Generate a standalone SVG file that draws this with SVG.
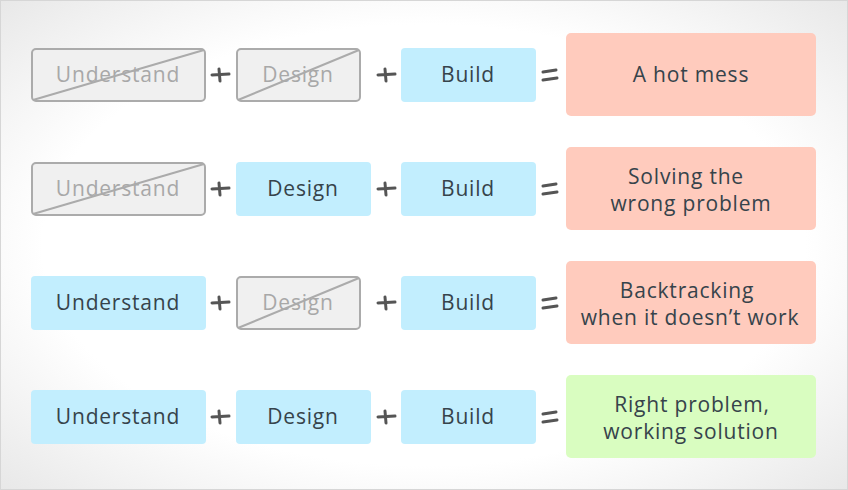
<svg xmlns="http://www.w3.org/2000/svg" width="848" height="490" viewBox="0 0 848 490">
<defs>
<radialGradient id="bg" cx="50%" cy="50%" r="75%">
<stop offset="0.6" stop-color="#ffffff"/>
<stop offset="1" stop-color="#e4e4e4"/>
</radialGradient>
<style>
.x{fill:#f0f0f0;stroke:#ababab;stroke-width:2}
.xl{stroke:#ababab;stroke-width:2;fill:none}
.xt{fill:#a8a8a8}
.b{fill:#c2eefe}
.r{fill:#ffcbbd}
.g{fill:#d9fdc0}
text{font-family:"Open Sans","Noto Sans",sans-serif;font-size:21px;letter-spacing:0.8px;text-anchor:middle;fill:#36434b;stroke:currentColor;stroke-width:0}
.op{stroke:#555;stroke-width:3;stroke-linecap:round;fill:none}
</style>
</defs>
<rect x="0" y="0" width="848" height="490" fill="url(#bg)"/>
<rect x="0.5" y="0.5" width="847" height="489" fill="none" stroke="#d6d6d6"/>

<g id="row1">
<g id="r1-understand"><rect class="x" x="32" y="49" width="173" height="52" rx="4"/><text class="xt" x="118" y="82">Understand</text><line class="xl" x1="33" y1="100" x2="204" y2="50"/></g>
<g id="r1-design"><rect class="x" x="237" y="49" width="123" height="52" rx="4"/><text class="xt" x="298" y="82">Design</text><line class="xl" x1="238" y1="100" x2="359" y2="50"/></g>
<g id="r1-build"><rect class="b" x="401" y="48" width="135" height="54" rx="4"/><text x="468" y="82">Build</text></g>
<g id="r1-result"><rect class="r" x="566" y="33" width="250" height="83" rx="5"/><text x="691" y="82">A hot mess</text></g>
</g>

<g id="row2">
<g id="r2-understand"><rect class="x" x="32" y="163" width="173" height="52" rx="4"/><text class="xt" x="118" y="196">Understand</text><line class="xl" x1="33" y1="214" x2="204" y2="164"/></g>
<g id="r2-design"><rect class="b" x="236" y="162" width="135" height="54" rx="4"/><text x="303" y="196">Design</text></g>
<g id="r2-build"><rect class="b" x="401" y="162" width="135" height="54" rx="4"/><text x="468" y="196">Build</text></g>
<g id="r2-result"><rect class="r" x="566" y="147" width="250" height="83" rx="5"/><text x="686" y="184">Solving the</text><text x="691" y="211">wrong problem</text></g>
</g>

<g id="row3">
<g id="r3-understand"><rect class="b" x="31" y="276" width="175" height="54" rx="4"/><text x="118" y="310">Understand</text></g>
<g id="r3-design"><rect class="x" x="237" y="277" width="123" height="52" rx="4"/><text class="xt" x="298" y="310">Design</text><line class="xl" x1="238" y1="328" x2="359" y2="278"/></g>
<g id="r3-build"><rect class="b" x="401" y="276" width="135" height="54" rx="4"/><text x="468" y="310">Build</text></g>
<g id="r3-result"><rect class="r" x="566" y="261" width="250" height="83" rx="5"/><text x="687" y="298">Backtracking</text><text x="690" y="325">when it doesn’t work</text></g>
</g>

<g id="row4">
<g id="r4-understand"><rect class="b" x="31" y="390" width="175" height="54" rx="4"/><text x="118" y="424">Understand</text></g>
<g id="r4-design"><rect class="b" x="236" y="390" width="135" height="54" rx="4"/><text x="303" y="424">Design</text></g>
<g id="r4-build"><rect class="b" x="401" y="390" width="135" height="54" rx="4"/><text x="468" y="424">Build</text></g>
<g id="r4-result"><rect class="g" x="566" y="375" width="250" height="83" rx="5"/><text x="692" y="412">Right problem,</text><text x="691" y="439">working solution</text></g>
</g>

<g id="connectors">
<g id="ops-r1">
<path class="op" d="M212 75 L229 74 M219 69 L220 81"/>
<path class="op" d="M378 75 L395 74 M385 69 L386 81"/>
<path class="op" d="M543 72 L556 70 M543 80 L557 78"/>
</g>
<g id="ops-r2">
<path class="op" d="M212 189 L229 188 M219 183 L220 195"/>
<path class="op" d="M378 189 L395 188 M385 183 L386 195"/>
<path class="op" d="M543 186 L556 184 M543 194 L557 192"/>
</g>
<g id="ops-r3">
<path class="op" d="M212 303 L229 302 M219 297 L220 309"/>
<path class="op" d="M378 303 L395 302 M385 297 L386 309"/>
<path class="op" d="M543 300 L556 298 M543 308 L557 306"/>
</g>
<g id="ops-r4">
<path class="op" d="M212 417 L229 416 M219 411 L220 423"/>
<path class="op" d="M378 417 L395 416 M385 411 L386 423"/>
<path class="op" d="M543 414 L556 412 M543 422 L557 420"/>
</g>
</g>
</svg>
